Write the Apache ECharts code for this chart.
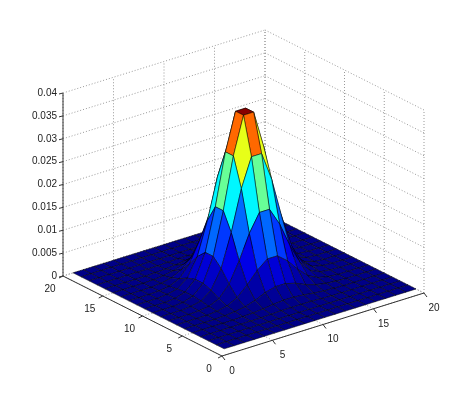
<!DOCTYPE html>
<html><head><meta charset="utf-8">
<script src="https://cdn.jsdelivr.net/npm/echarts@6/dist/echarts.min.js"></script>
<style>html,body{margin:0;padding:0;background:#fff}#c{width:474px;height:407px}</style>
</head><body><div id="c"></div>
<script>
// ---- data ----
const xs = [1,2,3,4,5,6,7,8,9,10,11,12,13,14,15,16,17,18,19,20];
const ys = [1,2,3,4,5,6,7,8,9,10,11,12,13,14,15,16,17,18,19,20];
const Z = [
[0,0,0,0,0,0,0,0,0,0,0,0,0,0,0,0,0,0,0,0],
[0,0,0,0,0,0,0,0,0,0,0,0,0,0,0,0,0,0,0,0],
[0,0,0,0,0,0,0,0,0,0,0,0,0,0,0,0,0,0,0,0],
[0,0,0,0,0,0,0,0.0001,0.0002,0.0002,0.0002,0.0002,0.0001,0,0,0,0,0,0,0],
[0,0,0,0,0,0.0001,0.0002,0.0004,0.0007,0.0009,0.0009,0.0007,0.0004,0.0002,0.0001,0,0,0,0,0],
[0,0,0,0,0.0001,0.0003,0.0007,0.0014,0.0024,0.0030,0.0030,0.0024,0.0014,0.0007,0.0003,0.0001,0,0,0,0],
[0,0,0,0,0.0002,0.0007,0.0018,0.0039,0.0064,0.0082,0.0082,0.0064,0.0039,0.0018,0.0007,0.0002,0,0,0,0],
[0,0,0,0.0001,0.0004,0.0014,0.0039,0.0083,0.0136,0.0175,0.0175,0.0136,0.0083,0.0039,0.0014,0.0004,0.0001,0,0,0],
[0,0,0,0.0002,0.0007,0.0024,0.0064,0.0136,0.0225,0.0288,0.0288,0.0225,0.0136,0.0064,0.0024,0.0007,0.0002,0,0,0],
[0,0,0,0.0002,0.0009,0.0030,0.0082,0.0175,0.0288,0.0370,0.0370,0.0288,0.0175,0.0082,0.0030,0.0009,0.0002,0,0,0],
[0,0,0,0.0002,0.0009,0.0030,0.0082,0.0175,0.0288,0.0370,0.0370,0.0288,0.0175,0.0082,0.0030,0.0009,0.0002,0,0,0],
[0,0,0,0.0002,0.0007,0.0024,0.0064,0.0136,0.0225,0.0288,0.0288,0.0225,0.0136,0.0064,0.0024,0.0007,0.0002,0,0,0],
[0,0,0,0.0001,0.0004,0.0014,0.0039,0.0083,0.0136,0.0175,0.0175,0.0136,0.0083,0.0039,0.0014,0.0004,0.0001,0,0,0],
[0,0,0,0,0.0002,0.0007,0.0018,0.0039,0.0064,0.0082,0.0082,0.0064,0.0039,0.0018,0.0007,0.0002,0,0,0,0],
[0,0,0,0,0.0001,0.0003,0.0007,0.0014,0.0024,0.0030,0.0030,0.0024,0.0014,0.0007,0.0003,0.0001,0,0,0,0],
[0,0,0,0,0,0.0001,0.0002,0.0004,0.0007,0.0009,0.0009,0.0007,0.0004,0.0002,0.0001,0,0,0,0,0],
[0,0,0,0,0,0,0,0.0001,0.0002,0.0002,0.0002,0.0002,0.0001,0,0,0,0,0,0,0],
[0,0,0,0,0,0,0,0,0,0,0,0,0,0,0,0,0,0,0,0],
[0,0,0,0,0,0,0,0,0,0,0,0,0,0,0,0,0,0,0,0],
[0,0,0,0,0,0,0,0,0,0,0,0,0,0,0,0,0,0,0,0]
];
const xTicks = [0,5,10,15,20];
const yTicks = [0,5,10,15,20];
const zTicks = [0,0.005,0.01,0.015,0.02,0.025,0.03,0.035,0.04];
const zTickLabels = ['0','0.005','0.01','0.015','0.02','0.025','0.03','0.035','0.04'];

// ---- projection (MATLAB default view) ----
const O = [222,356], UX = [202/20,-63/20], UY = [-159/20,-80/20], UZ = -183/0.04;
function P(x,y,z){ return [O[0]+x*UX[0]+y*UY[0], O[1]+x*UX[1]+y*UY[1]+z*UZ]; }
let zmax = 0; Z.forEach(r=>r.forEach(v=>{ if(v>zmax) zmax=v; }));
function jet(t){
  t = (Math.min(63,Math.floor(t*64))+0.5)/64;
  const c = v=>Math.round(255*Math.max(0,Math.min(1,v)));
  return 'rgb('+c(1.5-Math.abs(4*t-3))+','+c(1.5-Math.abs(4*t-2))+','+c(1.5-Math.abs(4*t-1))+')';
}

// cells sorted far -> near
const cells = [];
for (let j=0;j<ys.length-1;j++) for (let i=0;i<xs.length-1;i++){
  const c = P((xs[i]+xs[i+1])/2,(ys[j]+ys[j+1])/2,0);
  cells.push([i,j,c[1]]);
}
cells.sort((a,b)=>a[2]-b[2]);

// grid & axis lines: [x1,y1,z1,x2,y2,z2,kind]
const lines = [];
const zTop = zTicks[zTicks.length-1];
xTicks.forEach(x=>{ lines.push([x,20,0,x,20,zTop,0]); lines.push([x,0,0,x,20,0,0]); });
yTicks.forEach(y=>{ lines.push([20,y,0,20,y,zTop,0]); lines.push([0,y,0,20,y,0,0]); });
zTicks.forEach(z=>{ lines.push([0,20,z,20,20,z,0]); lines.push([20,0,z,20,20,z,0]); });
lines.push([0,0,0,20,0,0,1]); lines.push([0,0,0,0,20,0,1]); lines.push([0,20,0,0,20,zTop,1]);

// labels: [x,y,z,text,kind]
const labels = [];
xTicks.forEach(x=>labels.push([x,0,0,String(x),0]));
yTicks.forEach(y=>labels.push([0,y,0,String(y),1]));
zTicks.forEach((z,k)=>labels.push([0,20,z,zTickLabels[k],2]));

const chart = echarts.init(document.getElementById('c'));
chart.setOption({
  animation:false,
  grid:{left:0,right:0,top:0,bottom:0},
  xAxis:{type:'value',min:0,max:474,show:false},
  yAxis:{type:'value',min:0,max:407,inverse:true,show:false},
  series:[
    {type:'custom',clip:false,data:lines,z:1,renderItem:(p,api)=>{
      const a=P(api.value(0),api.value(1),api.value(2)), b=P(api.value(3),api.value(4),api.value(5));
      const k=api.value(6);
      const A=api.coord(a), B=api.coord(b);
      return {type:'line',shape:{x1:A[0],y1:A[1],x2:B[0],y2:B[1]},
        style:k?{stroke:'#333',lineWidth:1}:{stroke:'#999',lineWidth:1,lineDash:[1,2]}};
    }},
    {type:'custom',clip:false,data:labels,z:2,renderItem:(p,api)=>{
      const k=api.value(4);
      const pt=api.coord(P(api.value(0),api.value(1),api.value(2)));
      const txt=labels[p.dataIndex][3];
      let x=pt[0],y=pt[1],al='center',tk=null;
      if(k===0){x+=10;y+=15;tk=[pt[0],pt[1],pt[0]+3,pt[1]+4];}
      else if(k===1){x-=13;y+=13;tk=[pt[0],pt[1],pt[0]-4,pt[1]+2];}
      else {x-=6;al='right';tk=[pt[0],pt[1],pt[0]-4,pt[1]+1];}
      return {type:'group',children:[
        {type:'line',shape:{x1:tk[0],y1:tk[1],x2:tk[2],y2:tk[3]},style:{stroke:'#333',lineWidth:1}},
        {type:'text',x:x,y:y,style:{text:txt,fill:'#222',font:'10px "Liberation Sans", Arial, sans-serif',align:al,verticalAlign:'middle'}}
      ]};
    }},
    {type:'custom',clip:false,data:cells,z:3,renderItem:(p,api)=>{
      const i=api.value(0), j=api.value(1);
      const v=[[i,j],[i+1,j],[i+1,j+1],[i,j+1]];
      let s=Infinity;
      const pts=v.map(([a,b])=>{ s=Math.min(s,Z[b][a]); return api.coord(P(xs[a],ys[b],Z[b][a])); });
      return {type:'polygon',shape:{points:pts},style:{fill:jet(s/zmax),stroke:'#000',lineWidth:0.5}};
    }}
  ]
});
</script></body></html>
